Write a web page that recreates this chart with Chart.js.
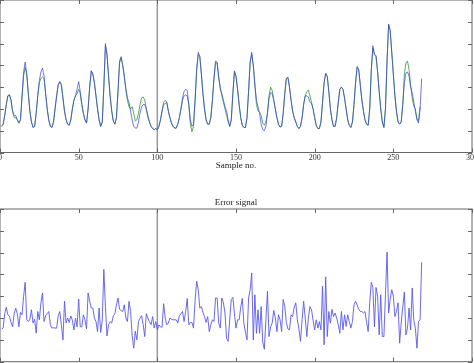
<!DOCTYPE html>
<html>
<head>
<meta charset="utf-8">
<script src="https://cdn.jsdelivr.net/npm/chart.js@4.4.1/dist/chart.umd.min.js"></script>
<style>
  html, body { margin: 0; padding: 0; background: #fff; }
  #wrap { position: relative; width: 474px; height: 363px; overflow: hidden; }
  #topChart { position: absolute; left: -40px; top: -10px; }
  #errChart { position: absolute; left: -40px; top: 180px; }
</style>
</head>
<body>
<div id="wrap">
  <canvas id="topChart" width="552" height="195"></canvas>
  <canvas id="errChart" width="552" height="200"></canvas>
</div>
<script>
// 刻度
const xTicks = [0, 50, 100, 150, 200, 250, 300];
const yTicks = [0, 1, 2, 3, 4, 5, 6, 7];
const splitSample = 100; // 竖线位置

// 实测信号 (蓝)
const measured = [
  1.2, 1.3, 1.7, 2.2, 2.6, 2.65, 2.4, 1.9, 1.7, 1.7,
  1.5, 1.35, 1.5, 2.6, 3.7, 4.15, 3.6, 2.7, 1.9, 1.4,
  1.15, 1.2, 1.8, 2.6, 3.3, 3.7, 3.88, 3.5, 2.7, 2.0,
  1.5, 1.2, 1.15, 1.4, 2.0, 2.6, 3.1, 3.25, 3.1, 2.5,
  1.9, 1.5, 1.3, 1.25, 1.5, 2.0, 2.4, 2.6, 2.9, 3.25,
  2.8, 2.2, 1.8, 1.5, 1.35, 2.0, 3.0, 3.75, 3.6, 3.2,
  2.6, 2.0, 1.5, 1.2, 1.4, 3.0, 5.0, 4.5, 3.5, 2.6,
  1.9, 1.45, 1.3, 1.6, 2.8, 4.2, 4.4, 4.0, 3.5, 2.9,
  2.5, 2.3, 1.9, 1.5, 1.2, 1.12, 1.12, 1.4, 1.8, 2.1,
  2.2, 2.2, 2.0, 1.7, 1.4, 1.2, 1.1, 1.05, 1.1, 1.05,
  1.2, 1.5, 1.9, 2.2, 2.25, 2.3, 1.9, 1.6, 1.35, 1.2,
  1.12, 1.12, 1.3, 1.6, 2.0, 2.5, 2.8, 2.9, 2.85, 2.2,
  1.5, 1.2, 1.3, 2.4, 3.8, 4.6, 4.4, 3.6, 2.7, 2.0,
  1.5, 1.3, 1.3, 1.6, 2.4, 3.4, 4.2, 4.15, 3.5, 2.9,
  2.7, 2.4, 2.1, 1.9, 1.5, 1.2, 1.5, 2.7, 3.75, 3.5,
  2.9, 2.2, 1.6, 1.25, 1.15, 1.15, 1.6, 2.8, 4.2, 4.6,
  4.0, 3.1, 2.4, 2.1, 1.8, 1.3, 1.05, 1.0, 1.2, 1.8,
  2.5, 2.75, 2.7, 2.4, 2.0, 1.6, 1.3, 1.17, 1.2, 1.8,
  2.7, 3.4, 3.45, 3.0, 2.4, 1.9, 1.6, 1.4, 1.2, 1.1,
  1.2, 1.6, 2.2, 2.6, 2.6, 2.55, 2.3, 2.25, 2.0, 1.6,
  1.25, 1.1, 1.1, 1.4, 2.3, 3.2, 3.65, 3.5, 2.8, 2.0,
  1.5, 1.2, 1.2, 1.6, 2.3, 2.9, 3.0, 2.9, 2.5, 2.0,
  1.5, 1.25, 1.15, 1.4, 2.2, 3.2, 3.95, 3.8, 3.1, 2.4,
  1.9, 1.5, 1.3, 1.25, 2.0, 3.8, 4.9, 4.5, 4.45, 3.7,
  2.8, 2.0, 1.4, 1.15, 2.0, 4.2, 5.9, 5.6, 4.6, 3.6,
  2.6, 1.9, 1.4, 1.3, 1.4, 2.2, 3.2, 3.65, 3.7, 3.5,
  3.0, 2.75, 2.3, 1.9, 1.5, 1.35, 2.0, 3.4
];

// 模型输出 (绿)
const predicted = [
  1.2, 1.3, 1.7, 2.2, 2.6, 2.65, 2.4, 1.9, 1.6, 1.6,
  1.5, 1.35, 1.5, 2.5, 3.5, 3.9, 3.6, 2.7, 1.9, 1.4,
  1.15, 1.2, 1.8, 2.6, 3.2, 3.4, 3.47, 3.4, 2.7, 2.0,
  1.5, 1.2, 1.15, 1.4, 2.0, 2.6, 3.1, 3.25, 3.1, 2.5,
  1.9, 1.5, 1.3, 1.25, 1.5, 2.0, 2.4, 2.6, 2.7, 2.9,
  2.7, 2.2, 1.8, 1.5, 1.35, 2.0, 3.0, 3.75, 3.6, 3.2,
  2.6, 2.0, 1.5, 1.2, 1.4, 3.0, 4.9, 4.5, 3.5, 2.6,
  1.9, 1.45, 1.3, 1.6, 2.8, 4.1, 4.35, 4.0, 3.5, 2.9,
  2.4, 2.1, 2.0, 2.1, 1.8, 1.45, 1.5, 1.8, 2.2, 2.5,
  2.55, 2.4, 2.0, 1.6, 1.4, 1.2, 1.1, 1.05, 1.1, 1.05,
  1.2, 1.5, 1.9, 2.3, 2.4, 2.3, 1.9, 1.6, 1.35, 1.2,
  1.12, 1.12, 1.3, 1.6, 2.0, 2.4, 2.6, 2.64, 2.6, 2.2,
  1.3, 0.95, 1.2, 2.4, 3.8, 4.5, 4.4, 3.6, 2.7, 2.0,
  1.5, 1.3, 1.3, 1.6, 2.4, 3.4, 4.1, 4.1, 3.4, 3.0,
  2.6, 2.3, 2.0, 1.7, 1.4, 1.2, 1.5, 2.7, 3.7, 3.5,
  2.9, 2.2, 1.6, 1.25, 1.15, 1.15, 1.6, 2.8, 4.1, 4.5,
  4.0, 3.1, 2.2, 1.9, 1.85, 1.7, 1.35, 1.25, 1.4, 1.8,
  2.6, 3.0, 2.85, 2.4, 2.0, 1.6, 1.3, 1.17, 1.2, 1.8,
  2.7, 3.4, 3.45, 3.0, 2.4, 1.9, 1.6, 1.4, 1.2, 1.1,
  1.2, 1.6, 2.2, 2.6, 2.8, 2.87, 2.6, 2.3, 2.0, 1.6,
  1.25, 1.1, 1.1, 1.4, 2.3, 3.2, 3.6, 3.5, 2.8, 2.0,
  1.5, 1.2, 1.2, 1.6, 2.3, 2.9, 3.0, 2.9, 2.5, 2.0,
  1.5, 1.25, 1.15, 1.4, 2.2, 3.2, 3.9, 3.8, 3.1, 2.4,
  1.9, 1.5, 1.3, 1.25, 2.0, 3.8, 4.8, 4.5, 4.4, 3.7,
  2.8, 2.0, 1.4, 1.15, 2.0, 4.2, 5.85, 5.6, 4.6, 3.6,
  2.6, 1.9, 1.4, 1.3, 1.4, 2.2, 3.6, 4.1, 4.2, 3.8,
  3.1, 2.5, 2.13, 2.0, 1.55, 1.45, 2.1
];

// 误差信号
const errorSignal = [
  1.5, 1.54, 2.2, 2.5, 2.15, 2.08, 1.8, 1.6, 2.2, 2.45,
  2.2, 1.6, 2.26, 2.15, 3.0, 3.64, 1.92, 1.84, 1.95, 2.38,
  1.77, 1.95, 1.31, 2.3, 1.92, 2.7, 3.15, 1.84, 2.1, 2.2,
  2.3, 1.7, 1.54, 1.56, 1.54, 1.54, 2.1, 2.3, 1.7, 1.0,
  2.77, 1.77, 2.0, 1.8, 2.1, 1.9, 1.46, 2.0, 1.6, 2.87,
  1.6, 1.6, 2.15, 1.92, 1.5, 3.15, 2.77, 2.46, 2.46, 2.0,
  1.84, 1.38, 2.46, 1.34, 1.92, 4.23, 2.53, 1.18, 1.7, 1.84,
  1.77, 2.1, 2.2, 2.6, 2.92, 2.4, 2.35, 2.3, 2.61, 2.0,
  1.84, 2.77, 2.3, 1.2, 0.62, 1.4, 1.0, 1.84, 2.0, 2.11,
  1.7, 1.15, 2.2, 2.0, 1.84, 1.69, 2.07, 1.54, 1.84, 1.46,
  1.69, 1.6, 1.58, 2.66, 2.0, 1.69, 1.77, 2.0, 1.95, 1.92,
  1.92, 1.92, 1.77, 2.1, 2.2, 2.3, 1.84, 2.3, 2.9, 1.69,
  1.8, 1.8, 1.54, 2.8, 3.69, 3.3, 2.46, 2.53, 2.26, 2.07,
  1.8, 2.07, 1.38, 1.7, 1.92, 1.84, 2.92, 2.92, 1.77, 1.54,
  2.92, 2.7, 2.23, 1.08, 0.93, 1.92, 2.85, 2.95, 2.2, 1.54,
  1.92, 1.92, 2.5, 2.9, 1.75, 1.35, 1.0, 2.92, 3.3, 4.07,
  1.0, 3.07, 1.3, 2.38, 1.3, 2.53, 0.9, 0.57, 1.92, 3.23,
  1.15, 1.6, 1.77, 2.35, 2.0, 1.38, 2.15, 1.92, 1.38, 2.85,
  2.53, 1.8, 1.5, 1.46, 2.15, 2.07, 2.5, 2.7, 1.92, 1.5,
  0.93, 1.92, 2.77, 2.0, 1.15, 2.0, 2.53, 2.38, 1.9, 1.46,
  1.92, 1.54, 1.84, 1.46, 3.46, 0.77, 3.89, 1.15, 2.3, 1.77,
  2.4, 2.07, 2.23, 2.0, 1.7, 1.3, 2.3, 1.46, 2.15, 1.62,
  2.15, 1.84, 1.54, 1.84, 2.6, 2.77, 2.6, 2.4, 2.3, 2.3,
  2.23, 2.3, 1.8, 1.38, 2.7, 3.64, 3.4, 1.6, 3.4, 3.0,
  1.23, 3.07, 1.15, 1.15, 3.07, 5.02, 2.23, 2.85, 3.3, 3.0,
  2.07, 2.3, 2.7, 0.85, 1.77, 2.5, 3.2, 1.23, 1.54, 2.46,
  1.46, 3.38, 1.9, 1.54, 0.62, 1.84, 1.92, 4.56
];

const serif = "'Liberation Serif', 'Times New Roman', serif";

// 数组 -> {x: 样本号, y: 值}
const toPoints = arr => arr.map((v, i) => ({ x: i + 1, y: v }));
const splitLine = [{ x: splitSample, y: yTicks[0] }, { x: splitSample, y: yTicks[yTicks.length - 1] }];

// MATLAB 风格的边框和朝内刻度
const matlabBox = {
  id: 'matlabBox',
  afterDatasetsDraw(chart) {
    const { ctx, chartArea: a, scales } = chart;
    ctx.save();
    ctx.strokeStyle = '#666';
    ctx.lineWidth = 1;
    ctx.strokeRect(a.left, a.top, a.right - a.left, a.bottom - a.top);
    ctx.beginPath();
    scales.x.ticks.forEach(t => {
      const px = Math.round(scales.x.getPixelForValue(t.value)) + 0.5;
      ctx.moveTo(px, a.bottom); ctx.lineTo(px, a.bottom - 4);
      ctx.moveTo(px, a.top); ctx.lineTo(px, a.top + 4);
    });
    scales.y.ticks.forEach(t => {
      const py = Math.round(scales.y.getPixelForValue(t.value)) + 0.5;
      ctx.moveTo(a.left, py); ctx.lineTo(a.left + 4, py);
      ctx.moveTo(a.right, py); ctx.lineTo(a.right - 4, py);
    });
    ctx.stroke();
    ctx.restore();
  }
};

function yScale() {
  return {
    min: yTicks[0], max: yTicks[yTicks.length - 1],
    afterBuildTicks: s => { s.ticks = yTicks.map(v => ({ value: v })); },
    afterFit: s => { s.width = 0; },
    ticks: { display: false },
    grid: { display: false, drawTicks: false },
    border: { display: false }
  };
}

const common = {
  responsive: false,
  animation: false,
  devicePixelRatio: 1,
  elements: { point: { radius: 0 }, line: { tension: 0 } },
};

// 上图：实测与预测（蓝线在上）
new Chart(document.getElementById('topChart'), {
  type: 'line',
  data: {
    datasets: [
      { data: splitLine, borderColor: '#9a9a9a', borderWidth: 1.5, order: 3 },
      { data: toPoints(predicted), borderColor: 'rgba(60,160,60,0.85)', borderWidth: 1, order: 2 },
      { data: toPoints(measured), borderColor: 'rgba(60,60,225,0.7)', borderWidth: 1, order: 1 }
    ]
  },
  options: {
    ...common,
    layout: { padding: { left: 40, right: 40, top: 10, bottom: 0 } },
    plugins: { legend: { display: false }, tooltip: { enabled: false } },
    scales: {
      x: {
        type: 'linear', min: 0, max: 300,
        afterBuildTicks: s => { s.ticks = xTicks.map(v => ({ value: v })); },
        afterFit: s => { s.height = 32.5; },
        grid: { display: false, drawTicks: false },
        border: { display: false },
        ticks: { font: { family: serif, size: 8 }, color: '#333', padding: 1, maxRotation: 0 },
        title: {
          display: true, text: 'Sample no.',
          font: { family: serif, size: 9 }, color: '#222',
          padding: { top: 0, bottom: 13.6 }
        }
      },
      y: yScale()
    }
  },
  plugins: [matlabBox]
});

// 下图：误差信号
new Chart(document.getElementById('errChart'), {
  type: 'line',
  data: {
    datasets: [
      { data: splitLine, borderColor: '#9a9a9a', borderWidth: 1.5, order: 2 },
      { data: toPoints(errorSignal), borderColor: 'rgba(90,90,235,0.9)', borderWidth: 1, order: 1 }
    ]
  },
  options: {
    ...common,
    layout: { padding: { left: 40, right: 40, top: 0, bottom: 0 } },
    plugins: {
      legend: { display: false },
      tooltip: { enabled: false },
      title: {
        display: true, text: 'Error signal',
        font: { family: serif, size: 9, weight: 'normal' }, color: '#222',
        padding: { top: 17.3, bottom: 0.9 }
      }
    },
    scales: {
      x: {
        type: 'linear', min: 0, max: 300,
        afterBuildTicks: s => { s.ticks = xTicks.map(v => ({ value: v })); },
        afterFit: s => { s.height = 18.3; },
        grid: { display: false, drawTicks: false },
        border: { display: false },
        ticks: { display: false }
      },
      y: yScale()
    }
  },
  plugins: [matlabBox]
});
</script>
</body>
</html>
